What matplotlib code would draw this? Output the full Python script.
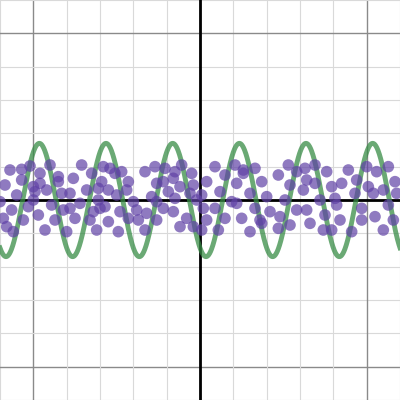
import numpy as np
import matplotlib
matplotlib.use('Agg')
import matplotlib.pyplot as plt

# scatter points (left half then right half), in graph units
left_x = [0.30, 0.65, 0.90, 1.20, 1.50, 2.45, 2.75, 3.10, 3.30, 3.65, 4.65, 4.95, 5.25, 5.45, 5.75,
          0.15, 0.65, 1.00, 1.20, 1.75, 1.75, 2.20, 3.05, 3.45, 3.85, 4.35, 4.70, 4.90, 5.20, 5.40, 5.80,
          0.50, 1.05, 1.40, 1.85, 2.10, 2.60, 2.95, 3.25, 3.50, 3.80, 4.55, 5.05, 5.70,
          0.00, 1.00, 1.55, 2.40, 2.95, 3.15, 4.00, 4.70, 5.25, 5.90,
          0.35, 0.85, 1.90, 2.10, 2.80, 3.00, 3.60, 4.10, 4.40, 4.90, 5.20,
          0.10, 0.70, 1.15, 1.65, 2.25, 2.70, 3.25, 3.85, 4.15, 4.70, 5.60,
          0.20, 0.40, 1.35, 2.00, 2.90, 3.55, 4.35, 5.40, 5.80]
left_y = [0.90, 0.88, 0.78, 1.00, 0.75, 0.75, 1.00, 0.80, 0.85, 0.95, 0.80, 0.85, 0.95, 0.75, 1.00,
          1.35, 1.20, 1.40, 1.30, 1.10, 1.25, 1.15, 1.25, 1.00, 1.25, 0.95, 1.30, 1.25, 1.15, 1.40, 1.35,
          1.65, 1.55, 1.50, 1.60, 1.60, 1.50, 1.45, 1.50, 1.65, 1.50, 1.70, 1.55, 1.60,
          1.85, 1.80, 1.95, 1.90, 1.80, 2.00, 1.85, 1.85, 1.75, 1.80,
          2.10, 2.00, 2.10, 2.05, 2.15, 2.05, 2.15, 2.10, 2.20, 2.05, 2.15,
          2.35, 2.40, 2.25, 2.40, 2.35, 2.40, 2.45, 2.35, 2.40, 2.40, 2.35,
          2.60, 2.75, 2.70, 2.75, 2.70, 2.75, 2.70, 2.60, 2.60]
right_x = [0.45, 1.05, 1.30, 1.65, 2.65, 2.90, 3.15, 3.45, 3.80, 4.45, 5.00, 5.30, 5.65,
           0.20, 0.75, 1.10, 1.30, 1.85, 2.35, 2.70, 3.20, 3.45, 3.95, 4.25, 4.70, 5.05, 5.50, 5.85,
           0.05, 0.60, 0.95, 1.50, 2.00, 2.55, 3.10, 3.60, 4.05, 4.65, 5.20, 5.90,
           0.10, 0.45, 1.10, 1.65, 2.10, 2.90, 3.20, 3.75, 4.10, 4.85, 5.25, 5.65,
           0.20, 0.75, 1.25, 1.80, 2.40, 2.70, 3.30, 4.20, 4.85, 5.80,
           0.05, 0.55, 1.50, 1.85, 2.35, 3.70, 3.95, 4.55, 5.50]
right_y = [0.80, 0.75, 0.90, 0.85, 0.75, 0.95, 0.85, 0.75, 0.95, 0.90, 0.80, 0.95, 0.80,
           1.25, 1.05, 1.30, 1.00, 1.25, 1.05, 1.35, 1.20, 1.30, 1.40, 1.30, 1.20, 1.40, 1.50, 1.25,
           1.65, 1.55, 1.85, 1.60, 1.70, 1.80, 1.50, 1.80, 1.75, 1.60, 1.60, 1.60,
           2.05, 2.05, 1.90, 2.05, 2.15, 2.10, 2.10, 2.25, 1.95, 2.05, 2.30, 1.95,
           2.40, 2.35, 2.35, 2.40, 2.30, 2.55, 2.50, 2.40, 2.40, 2.40,
           2.70, 2.70, 2.75, 2.50, 2.65, 2.70, 2.70, 2.75, 2.70]

# convert the read positions: left half starts at x=-6, y measured down from 1.8
px = np.array([v - 6 for v in left_x] + right_x)
py = 1.8 - np.array(left_y + right_y)

# green curve: amplitude ~1.7, period 2, crest near x=-4.82
AMP = 1.7
CREST = -4.82

fig = plt.figure(figsize=(4, 4), dpi=100)
ax = fig.add_axes([0, 0, 1, 1])
ax.set_xlim(-6, 6)
ax.set_ylim(-6, 6)

for v in range(-6, 7):
    major = v % 5 == 0
    c = '#8a8a8a' if major else '#d9d9d9'
    lw = 1.0 if major else 0.8
    ax.axvline(v, color=c, lw=lw, zorder=0)
    ax.axhline(v, color=c, lw=lw, zorder=0)
ax.axvline(0, color='black', lw=2, zorder=1)
ax.axhline(0, color='black', lw=2, zorder=1)

xs = np.linspace(-6, 6, 1200)
ax.plot(xs, AMP * np.cos(np.pi * (xs - CREST)), color='#388c46', lw=3.5, alpha=0.75, zorder=2)
ax.scatter(px, py, s=70, color='#6042a6', alpha=0.7, edgecolors='none', zorder=3)

ax.axis('off')
fig.savefig('out.png', dpi=100)
